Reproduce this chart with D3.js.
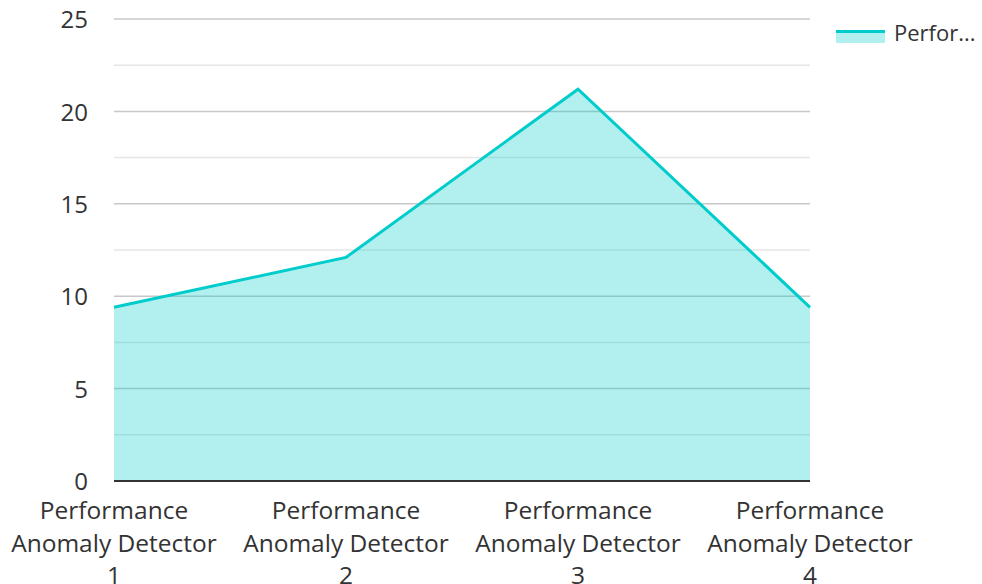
<!DOCTYPE html>
<html><head><meta charset="utf-8">
<script src="https://cdn.jsdelivr.net/npm/d3@7"></script>
<style>
body{margin:0;background:#fff;}
text{font-family:"Open Sans","Noto Sans",sans-serif;fill:#333;}
</style></head>
<body><svg id="c" width="982" height="584"></svg>
<script>
const categories = ["Performance Anomaly Detector 1","Performance Anomaly Detector 2","Performance Anomaly Detector 3","Performance Anomaly Detector 4"];
const seriesName = "Performance";
const values = [9.4, 12.1, 21.2, 9.4];
const yTicks = [0,5,10,15,20,25];
const yMinorTicks = [2.5,7.5,12.5,17.5,22.5];

(function(){
const svg = d3.select("#c");
const pLeft=114, pRight=810, pTop=19, pBottom=481;
const x = d3.scalePoint().domain(categories).range([pLeft,pRight]);
const y = d3.scaleLinear().domain([0,25]).range([pBottom,pTop]);
const color = "#00cccc";
const fs = "24.5px";

const g = svg.append("g");
g.selectAll("line.minor").data(yMinorTicks).enter().append("line")
  .attr("x1",pLeft).attr("x2",pRight).attr("y1",d=>y(d)).attr("y2",d=>y(d))
  .attr("stroke","#e6e6e6").attr("stroke-width",1.5);
g.selectAll("line.major").data(yTicks.filter(d=>d>0)).enter().append("line")
  .attr("x1",pLeft).attr("x2",pRight).attr("y1",d=>y(d)).attr("y2",d=>y(d))
  .attr("stroke","#c8c8c8").attr("stroke-width",1.5);

const pts = categories.map((c,i)=>({c,v:values[i]}));
svg.append("path").datum(pts)
  .attr("d", d3.area().x(d=>x(d.c)).y0(y(0)).y1(d=>y(d.v)))
  .attr("fill", color).attr("fill-opacity",0.3);
svg.append("path").datum(pts)
  .attr("d", d3.line().x(d=>x(d.c)).y(d=>y(d.v)))
  .attr("fill","none").attr("stroke",color).attr("stroke-width",3).attr("stroke-linejoin","miter");

svg.append("line").attr("x1",pLeft).attr("x2",pRight).attr("y1",y(0)).attr("y2",y(0))
  .attr("stroke","#333").attr("stroke-width",2);

const yAxis = d3.axisLeft(y).tickValues(yTicks).tickSize(0).tickPadding(26);
const ya = svg.append("g").attr("transform",`translate(${pLeft},0)`).call(yAxis);
ya.select(".domain").remove();
ya.selectAll("text").style("font-size","24px").style("font-family",'"Open Sans","Noto Sans",sans-serif').attr("fill","#333").attr("dy","0.36em");

const lines = c => { const m = c.match(/^(\S+) (.+) (\S+)$/); return [m[1], m[2], m[3]]; };
const xl = svg.append("g");
categories.forEach(c=>{
  const t = xl.append("text").attr("x",x(c)).attr("text-anchor","middle").style("font-size",fs);
  lines(c).forEach((l,i)=>{
    t.append("tspan").attr("x",x(c)).attr("y",519+i*32.5).text(l);
  });
});

const lg = svg.append("g");
lg.append("rect").attr("x",836).attr("y",33).attr("width",49).attr("height",10).attr("fill",color).attr("fill-opacity",0.3);
lg.append("line").attr("x1",836).attr("x2",885).attr("y1",31.5).attr("y2",31.5).attr("stroke",color).attr("stroke-width",3);
lg.append("text").attr("x",894).attr("y",41).style("font-size","22px").text(seriesName.slice(0,6)+"...");
})();
</script></body></html>
